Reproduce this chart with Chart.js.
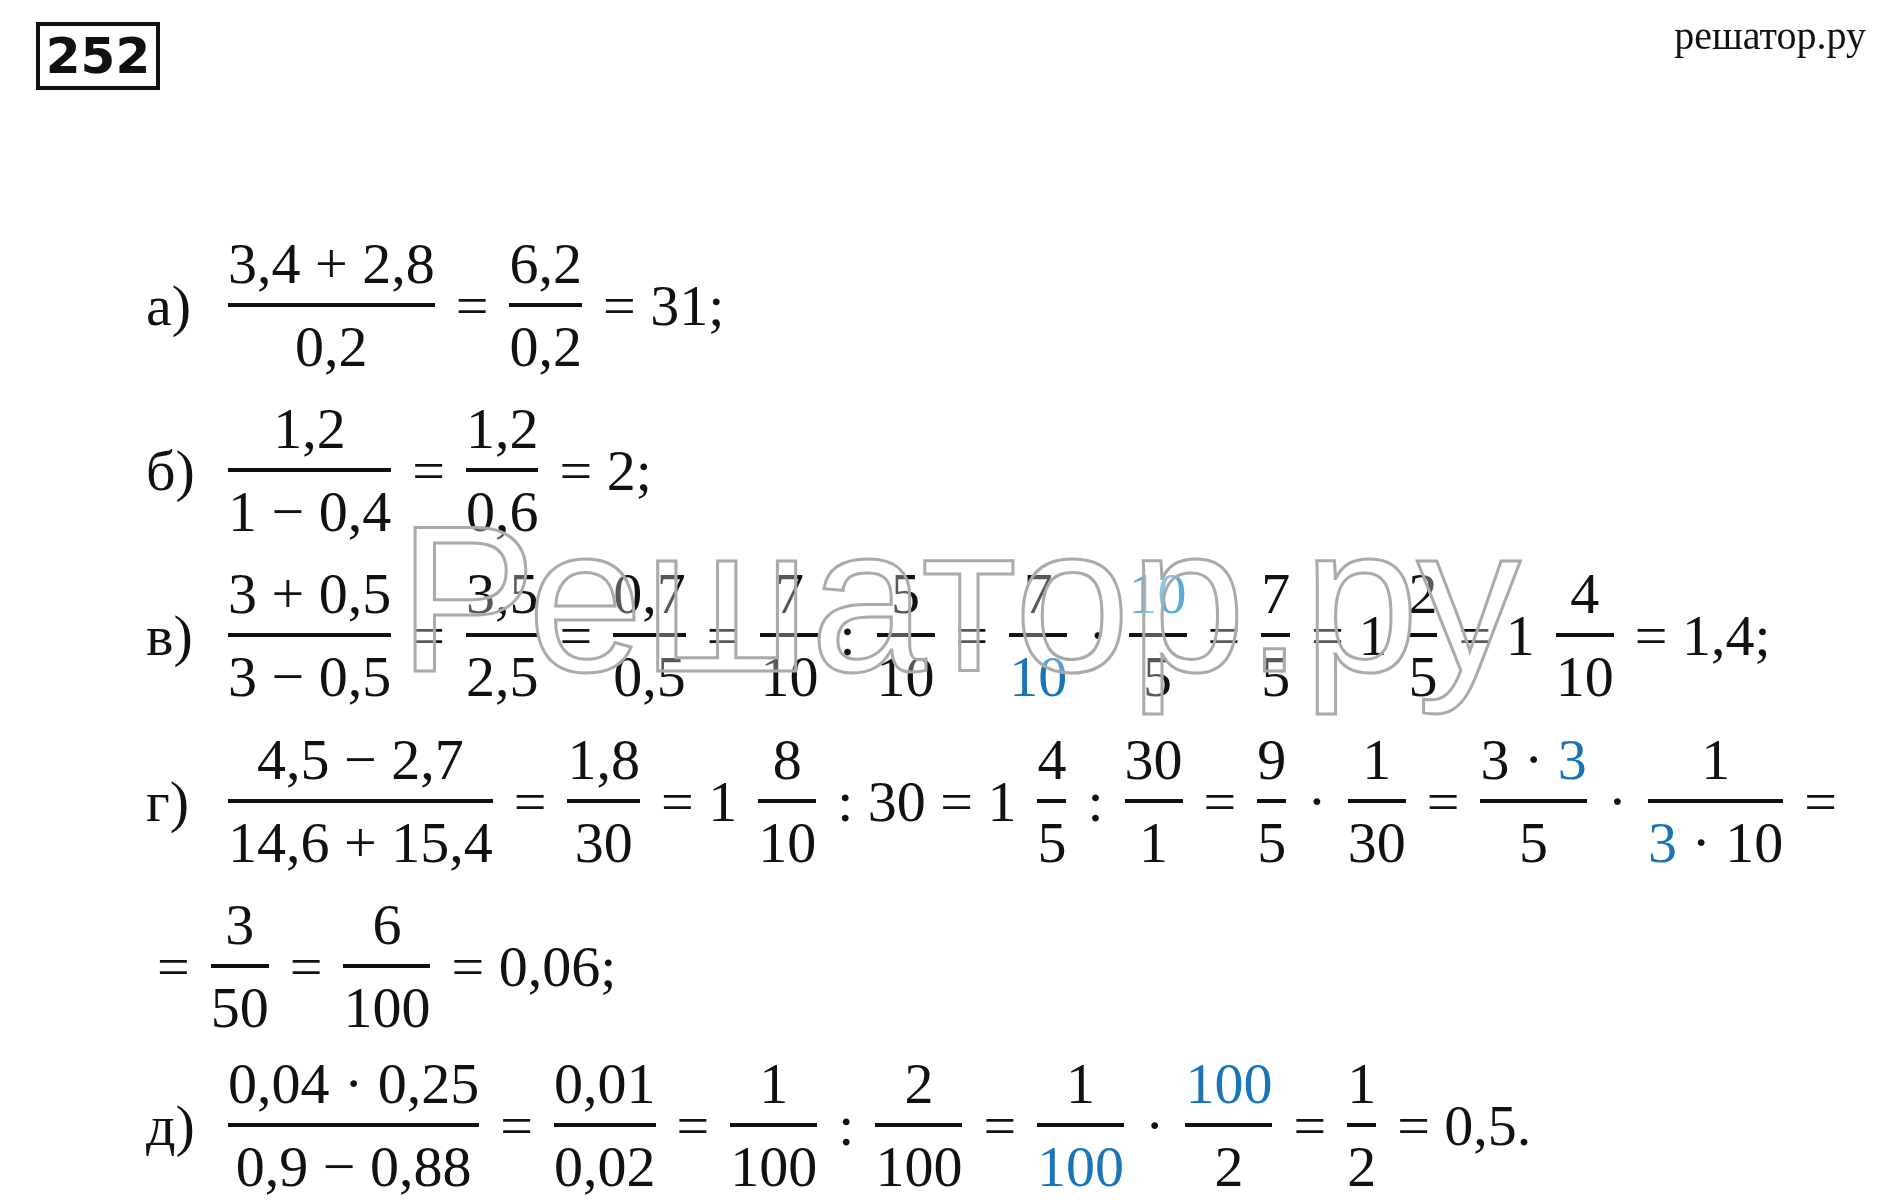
<!DOCTYPE html>
<html><head><meta charset="utf-8">
<script src="https://cdn.jsdelivr.net/npm/chart.js@4"></script>
<style>
body{margin:0;width:1880px;height:1200px;background:#fff;position:relative;overflow:hidden;font-family:"Liberation Serif","DejaVu Serif",serif;color:#111}
#bg{position:absolute;left:0;top:0;width:1880px;height:1200px}
.row{position:absolute;display:flex;align-items:center;font-size:58px;white-space:pre}
.lab{width:72px}
.f{display:inline-flex;flex-direction:column;align-items:center;margin:0 10px}
.f .bar{align-self:stretch;height:4px;background:#111;margin:6px 0}
.op{margin:0 11px}
.b{color:#1a74b8}.lb{color:#5aaad8}
#box{position:absolute;left:36px;top:22px;width:116px;height:60px;border:4px solid #111;font:bold 50px "DejaVu Sans",sans-serif;text-align:center;line-height:60px}
#site{position:absolute;right:14px;top:12px;font-size:40px}
#wm{position:absolute;left:398px;top:480px;font:208px "Liberation Sans",sans-serif;color:rgba(255,255,255,0.3);-webkit-text-stroke:3px #aaa;white-space:pre}
</style></head><body>
<canvas id="bg"></canvas>
<div id="box">252</div>
<div id="site">решатор.ру</div>
<div id="rows"></div>
<div id="wm">Решатор.ру</div>
<script>
const rowLabels=["а)","б)","в)","г)","","д)"];
const rowTops=[305,470,635,801,966,1125];
const rowA=[["3,4 + 2,8","0,2"],"=",["6,2","0,2"],"= 31;"];
const rowB=[["1,2","1 − 0,4"],"=",["1,2","0,6"],"= 2;"];
const rowV=[["3 + 0,5","3 − 0,5"],"=",["3,5","2,5"],"=",["0,7","0,5"],"=",["7","10"],":",["5","10"],"=",["7","<span class=b>10</span>"],"·",["<span class=lb>10</span>","5"],"=",["7","5"],"= 1",["2","5"],"= 1",["4","10"],"= 1,4;"];
const rowG=[["4,5 − 2,7","14,6 + 15,4"],"=",["1,8","30"],"= 1",["8","10"],": 30 = 1",["4","5"],":",["30","1"],"=",["9","5"],"·",["1","30"],"=",["3 · <span class=b>3</span>","5"],"·",["1","<span class=b>3</span> · 10"],"="];
const rowG2=["=",["3","50"],"=",["6","100"],"= 0,06;"];
const rowD=[["0,04 · 0,25","0,9 − 0,88"],"=",["0,01","0,02"],"=",["1","100"],":",["2","100"],"=",["1","<span class=b>100</span>"],"·",["<span class=b>100</span>","2"],"=",["1","2"],"= 0,5."];
const rows=[rowA,rowB,rowV,rowG,rowG2,rowD];
const host=document.getElementById('rows');
rows.forEach((r,i)=>{
  const d=document.createElement('div');d.className='row';
  d.style.left='146px';
  let h=rowLabels[i]?'<span class=lab>'+rowLabels[i]+'</span>':'';
  r.forEach(t=>{
    if(Array.isArray(t))h+='<span class=f><span>'+t[0]+'</span><span class=bar></span><span>'+t[1]+'</span></span>';
    else h+='<span class=op>'+t+'</span>';
  });
  d.innerHTML=h;host.appendChild(d);
  d.style.top=(rowTops[i]-d.offsetHeight/2)+'px';
});
new Chart(document.getElementById('bg'),{type:'scatter',data:{datasets:[]},
 options:{responsive:false,animation:false,plugins:{legend:{display:false},tooltip:{enabled:false}},
 scales:{x:{display:false},y:{display:false}}}});
</script>
</body></html>
